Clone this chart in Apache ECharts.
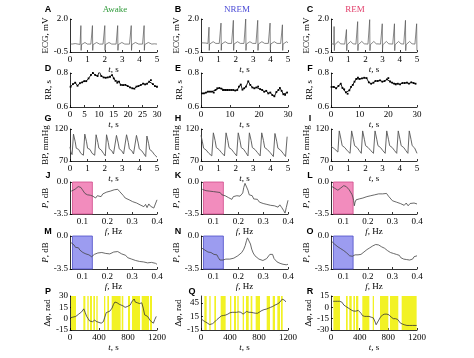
<!DOCTYPE html>
<html><head><meta charset="utf-8">
<script src="https://cdn.jsdelivr.net/npm/echarts@6/dist/echarts.min.js"></script>
<style>html,body{margin:0;padding:0;background:#fff}#c{width:474px;height:358px}</style>
</head><body><div id="c"></div>
<script>
// ---------- DATA ----------
const ecgAwake = [[0,0.12],[0.12,0.1],[0.3,0.14],[0.45,0.1],[0.58,0.08],[0.61,0.04],[0.625,1.5],[0.64,-0.38],[0.66,0.06],[0.72,0.12],[0.86,0.22],[1.0,0.1],[1.2,0.1],[1.27,0.05],[1.29,1.5],[1.305,-0.38],[1.325,0.06],[1.4,0.12],[1.53,0.22],[1.7,0.1],[1.9,0.1],[1.985,0.05],[2.0,1.5],[2.015,-0.38],[2.035,0.06],[2.1,0.12],[2.24,0.22],[2.4,0.1],[2.65,0.1],[2.725,0.05],[2.74,1.5],[2.755,-0.38],[2.775,0.06],[2.85,0.12],[2.98,0.22],[3.15,0.1],[3.42,0.1],[3.505,0.05],[3.52,1.5],[3.535,-0.38],[3.555,0.06],[3.63,0.12],[3.76,0.22],[3.95,0.1],[4.17,0.1],[4.245,0.05],[4.26,1.5],[4.275,-0.38],[4.295,0.06],[4.37,0.12],[4.5,0.22],[4.7,0.1],[4.85,0.12],[5.0,0.1]];
const ecgNrem = [[0,0.2],[0.1,0.15],[0.25,0.18],[0.4,0.15],[0.445,0.1],[0.46,1.38],[0.475,-0.38],[0.495,0.1],[0.57,0.18],[0.7,0.28],[0.85,0.15],[1.05,0.15],[1.135,0.1],[1.15,1.69],[1.165,-0.38],[1.185,0.1],[1.26,0.18],[1.39,0.28],[1.55,0.15],[1.76,0.15],[1.845,0.1],[1.86,1.9],[1.875,-0.38],[1.895,0.1],[1.97,0.18],[2.1,0.28],[2.26,0.15],[2.47,0.15],[2.555,0.1],[2.57,2.0],[2.585,-0.38],[2.605,0.1],[2.68,0.18],[2.81,0.28],[2.97,0.15],[3.16,0.15],[3.245,0.1],[3.26,1.9],[3.275,-0.38],[3.295,0.1],[3.37,0.18],[3.5,0.28],[3.66,0.15],[3.87,0.15],[3.955,0.1],[3.97,1.69],[3.985,-0.38],[4.005,0.1],[4.08,0.18],[4.21,0.28],[4.37,0.15],[4.58,0.15],[4.665,0.1],[4.68,1.56],[4.695,-0.38],[4.715,0.1],[4.79,0.18],[4.92,0.28],[5.0,0.2]];
const ecgRem = [[0,0.15],[0.1,0.12],[0.165,0.08],[0.18,1.43],[0.195,-0.4],[0.215,0.05],[0.3,0.12],[0.42,0.3],[0.55,0.12],[0.8,0.1],[0.885,0.05],[0.9,1.2],[0.915,-0.4],[0.935,0.05],[1.02,0.12],[1.14,0.3],[1.28,0.12],[1.45,0.1],[1.535,0.05],[1.55,1.8],[1.565,-0.4],[1.585,0.05],[1.67,0.12],[1.79,0.3],[1.93,0.12],[2.15,0.1],[2.235,0.05],[2.25,1.95],[2.265,-0.4],[2.285,0.05],[2.37,0.12],[2.49,0.3],[2.63,0.12],[2.88,0.1],[2.965,0.05],[2.98,1.64],[2.995,-0.4],[3.015,0.05],[3.1,0.12],[3.22,0.3],[3.36,0.12],[3.59,0.1],[3.675,0.05],[3.69,1.64],[3.705,-0.4],[3.725,0.05],[3.81,0.12],[3.93,0.3],[4.07,0.12],[4.23,0.1],[4.315,0.05],[4.33,1.9],[4.345,-0.4],[4.365,0.05],[4.45,0.12],[4.57,0.3],[4.71,0.12],[4.88,0.1],[4.965,0.05],[4.98,1.64],[4.995,-0.4]];

const rrAwake = [[0.2,0.719],[1.0,0.735],[1.8,0.743],[2.6,0.725],[3.4,0.74],[4.2,0.745],[4.9,0.752],[5.6,0.752],[6.4,0.768],[7.2,0.788],[7.9,0.8],[8.7,0.788],[9.5,0.782],[10.1,0.808],[10.8,0.782],[11.6,0.774],[12.3,0.772],[13.0,0.774],[13.8,0.778],[14.5,0.788],[15.1,0.768],[15.7,0.754],[16.3,0.743],[16.9,0.749],[17.5,0.73],[18.3,0.729],[19.1,0.73],[19.9,0.723],[20.7,0.715],[21.5,0.71],[22.2,0.708],[22.9,0.72],[23.6,0.723],[24.4,0.729],[25.2,0.738],[25.9,0.733],[26.6,0.737],[27.3,0.749],[27.9,0.758],[28.6,0.735],[29.3,0.723],[30.0,0.719]];
const rrNrem = [[0.3,0.68],[1.0,0.68],[1.7,0.685],[2.4,0.69],[3.1,0.69],[3.8,0.69],[4.4,0.685],[5.0,0.7],[5.6,0.71],[6.3,0.712],[7.0,0.708],[7.6,0.7],[8.3,0.7],[9.0,0.7],[9.7,0.7],[10.4,0.7],[11.1,0.7],[11.8,0.697],[12.5,0.7],[13.1,0.72],[13.7,0.732],[14.3,0.702],[14.9,0.71],[15.5,0.72],[16.3,0.751],[17.0,0.73],[17.7,0.715],[18.4,0.71],[19.1,0.715],[19.7,0.72],[20.4,0.705],[21.1,0.7],[21.8,0.69],[22.5,0.695],[23.2,0.68],[23.9,0.685],[24.6,0.67],[25.3,0.663],[26.0,0.688],[26.7,0.7],[27.2,0.712],[27.8,0.695],[28.4,0.675],[29.0,0.672],[29.7,0.685]];
const rrRem = [[0.2,0.718],[1.0,0.718],[1.8,0.71],[2.6,0.724],[3.4,0.737],[4.0,0.712],[4.6,0.704],[5.2,0.686],[5.8,0.678],[6.4,0.698],[7.0,0.718],[7.6,0.73],[8.2,0.749],[8.8,0.765],[9.4,0.772],[10.0,0.765],[10.8,0.768],[11.6,0.772],[12.4,0.77],[13.2,0.745],[14.0,0.737],[14.8,0.743],[15.5,0.753],[16.3,0.753],[17.1,0.757],[17.9,0.749],[18.7,0.753],[19.5,0.763],[20.0,0.77],[20.6,0.75],[21.3,0.743],[22.0,0.737],[22.6,0.733],[23.3,0.737],[24.1,0.733],[24.9,0.741],[25.7,0.741],[26.5,0.743],[27.2,0.737],[28.0,0.745],[28.8,0.741],[29.5,0.737]];

const bpAwake = [[0,92],[0.05,84],[0.12,80],[0.2,112],[0.3,100],[0.36,90],[0.42,89],[0.5,88],[0.62,82],[0.77,79],[0.85,112],[0.95,100],[1.01,90],[1.07,89],[1.15,88],[1.27,82],[1.42,79],[1.5,111],[1.6,99],[1.66,90],[1.72,89],[1.8,87],[1.92,82],[2.03,78],[2.1,111],[2.2,99],[2.26,89],[2.32,88],[2.4,86],[2.5,81],[2.6,78],[2.67,110],[2.77,98],[2.83,89],[2.89,88],[2.97,86],[3.08,81],[3.18,78],[3.25,111],[3.35,99],[3.41,89],[3.47,88],[3.55,86],[3.65,81],[3.75,78],[3.82,110],[3.92,98],[3.98,89],[4.04,88],[4.12,86],[4.25,81],[4.35,77],[4.42,109],[4.52,97],[4.58,88],[4.64,87],[4.72,85],[4.85,80],[5.0,76]];
const bpNrem = [[0,110],[0.08,100],[0.15,90],[0.22,89],[0.3,87],[0.45,82],[0.62,78],[0.71,114],[0.81,102],[0.88,91],[0.95,90],[1.03,88],[1.18,83],[1.35,78],[1.44,114],[1.54,102],[1.61,91],[1.68,90],[1.76,88],[1.9,83],[2.05,78],[2.14,114],[2.24,102],[2.31,91],[2.38,90],[2.46,88],[2.58,83],[2.7,78],[2.78,114],[2.88,102],[2.95,91],[3.02,90],[3.1,88],[3.25,83],[3.4,78],[3.49,114],[3.59,102],[3.66,91],[3.73,90],[3.81,88],[3.98,83],[4.16,77],[4.25,113],[4.35,101],[4.42,90],[4.49,89],[4.57,87],[4.72,82],[4.86,77],[4.95,108]];
const bpRem = [[0,93],[0.1,91],[0.2,89],[0.3,86],[0.4,84],[0.48,117],[0.58,104],[0.65,94],[0.72,93],[0.8,91],[0.95,86],[1.11,82],[1.2,117],[1.3,104],[1.37,94],[1.44,93],[1.52,91],[1.65,86],[1.76,82],[1.84,117],[1.94,104],[2.01,94],[2.08,93],[2.16,91],[2.32,86],[2.47,82],[2.56,117],[2.66,104],[2.73,94],[2.8,93],[2.88,91],[3.02,86],[3.15,82],[3.24,117],[3.34,104],[3.41,94],[3.48,93],[3.56,91],[3.7,86],[3.82,82],[3.91,117],[4.01,104],[4.08,94],[4.15,93],[4.23,91],[4.36,86],[4.47,82],[4.55,117],[4.65,104],[4.72,94],[4.79,93],[4.87,90],[5.0,82]];

const psdLfAwake = [[0.055,-1.0],[0.062,-0.95],[0.07,-0.8],[0.078,-0.75],[0.083,-0.5],[0.088,-0.65],[0.094,-0.6],[0.1,-0.85],[0.105,-0.75],[0.11,-1.25],[0.115,-1.05],[0.12,-1.4],[0.126,-1.2],[0.132,-1.45],[0.137,-1.3],[0.142,-1.55],[0.148,-1.45],[0.153,-1.75],[0.16,-1.5],[0.168,-1.4],[0.175,-1.6],[0.182,-1.3],[0.19,-1.35],[0.198,-1.1],[0.205,-1.3],[0.212,-1.0],[0.22,-1.1],[0.228,-0.85],[0.235,-0.95],[0.242,-0.8],[0.25,-1.05],[0.258,-1.2],[0.265,-1.5],[0.272,-1.75],[0.28,-1.65],[0.288,-1.95],[0.295,-1.85],[0.302,-2.15],[0.31,-2.0],[0.318,-2.3],[0.325,-2.2],[0.332,-2.5],[0.34,-2.35],[0.347,-2.7],[0.354,-2.45],[0.36,-2.8],[0.367,-2.4],[0.374,-2.65],[0.38,-2.5],[0.387,-2.85],[0.393,-2.7],[0.4,-1.95]];
const psdLfNrem = [[0.055,-0.8],[0.062,-1.0],[0.07,-0.95],[0.078,-1.15],[0.085,-1.0],[0.092,-1.2],[0.1,-1.05],[0.107,-1.25],[0.114,-1.1],[0.12,-1.3],[0.127,-1.15],[0.134,-1.4],[0.14,-1.3],[0.147,-1.5],[0.154,-1.4],[0.16,-1.7],[0.167,-1.55],[0.174,-1.9],[0.18,-1.6],[0.187,-1.75],[0.194,-1.5],[0.2,-1.7],[0.207,-1.55],[0.213,-1.75],[0.218,-1.2],[0.222,-0.6],[0.227,-0.15],[0.231,-0.05],[0.235,-0.3],[0.239,-0.9],[0.244,-1.4],[0.25,-1.6],[0.256,-1.5],[0.262,-1.85],[0.27,-2.0],[0.277,-1.9],[0.285,-2.2],[0.292,-2.1],[0.3,-2.35],[0.307,-2.2],[0.315,-2.45],[0.322,-2.3],[0.33,-2.55],[0.337,-2.35],[0.345,-2.6],[0.352,-2.4],[0.36,-2.75],[0.367,-2.5],[0.375,-2.8],[0.382,-3.1],[0.388,-3.4],[0.393,-2.8],[0.4,-2.0]];
const psdLfRem = [[0.054,-0.5],[0.06,-0.55],[0.066,-0.7],[0.072,-0.75],[0.078,-0.9],[0.084,-0.8],[0.09,-0.65],[0.096,-0.55],[0.102,-0.4],[0.107,-0.35],[0.112,-0.5],[0.118,-0.65],[0.124,-0.85],[0.13,-1.05],[0.135,-1.35],[0.139,-1.65],[0.142,-2.0],[0.145,-2.6],[0.148,-2.2],[0.152,-1.95],[0.158,-2.1],[0.165,-1.85],[0.172,-2.0],[0.18,-1.75],[0.188,-1.85],[0.196,-1.6],[0.204,-1.75],[0.212,-1.5],[0.22,-1.65],[0.228,-1.4],[0.236,-1.5],[0.244,-1.3],[0.252,-1.45],[0.26,-1.3],[0.268,-1.45],[0.276,-1.25],[0.284,-1.55],[0.292,-1.75],[0.3,-2.05],[0.308,-1.85],[0.316,-2.2],[0.324,-2.0],[0.332,-2.35],[0.34,-2.15],[0.348,-2.55],[0.356,-2.3],[0.364,-2.6],[0.372,-2.35],[0.38,-2.5],[0.388,-2.3],[0.396,-2.45],[0.4,-2.4]];
const psdBpAwake = [[0.054,-0.7],[0.06,-0.9],[0.066,-0.95],[0.072,-1.2],[0.078,-1.3],[0.084,-1.25],[0.09,-1.5],[0.096,-1.6],[0.102,-1.75],[0.108,-1.7],[0.114,-1.9],[0.12,-1.85],[0.126,-2.0],[0.132,-1.9],[0.137,-2.2],[0.142,-2.05],[0.148,-1.95],[0.155,-2.0],[0.162,-1.8],[0.17,-1.9],[0.178,-1.75],[0.186,-1.95],[0.194,-1.85],[0.202,-2.05],[0.21,-1.9],[0.218,-1.85],[0.226,-1.7],[0.234,-1.8],[0.242,-1.65],[0.25,-1.85],[0.258,-1.9],[0.266,-2.1],[0.274,-2.05],[0.282,-2.3],[0.29,-2.25],[0.298,-2.45],[0.306,-2.4],[0.314,-2.6],[0.322,-2.5],[0.33,-2.7],[0.338,-2.8],[0.346,-2.75],[0.354,-2.95],[0.362,-2.85],[0.37,-3.0],[0.378,-2.8],[0.386,-2.95],[0.394,-2.9],[0.4,-3.0]];
const psdBpNrem = [[0.054,-1.3],[0.06,-1.35],[0.066,-1.5],[0.072,-1.45],[0.078,-1.7],[0.084,-1.6],[0.09,-1.75],[0.096,-1.85],[0.102,-1.95],[0.108,-2.05],[0.114,-2.0],[0.12,-2.3],[0.126,-2.55],[0.132,-2.7],[0.138,-2.55],[0.144,-2.65],[0.15,-2.45],[0.158,-2.3],[0.166,-2.45],[0.174,-2.25],[0.182,-2.35],[0.19,-2.15],[0.198,-2.1],[0.206,-1.95],[0.214,-1.75],[0.222,-1.4],[0.228,-1.0],[0.233,-0.5],[0.237,-0.2],[0.241,-0.05],[0.245,-0.3],[0.249,-0.85],[0.254,-1.4],[0.26,-1.8],[0.267,-2.1],[0.275,-2.3],[0.283,-2.45],[0.291,-2.5],[0.299,-2.6],[0.307,-2.55],[0.314,-2.4],[0.32,-2.2],[0.327,-1.95],[0.333,-1.8],[0.338,-1.95],[0.344,-2.4],[0.35,-2.6],[0.356,-2.75],[0.362,-2.7],[0.368,-2.9],[0.374,-2.85],[0.38,-3.0],[0.387,-2.95],[0.393,-3.05],[0.4,-3.0]];
const psdBpRem = [[0.054,-0.6],[0.06,-0.75],[0.066,-0.9],[0.072,-1.0],[0.078,-1.15],[0.084,-1.2],[0.09,-1.35],[0.096,-1.45],[0.102,-1.55],[0.108,-1.7],[0.114,-1.8],[0.12,-1.95],[0.126,-2.1],[0.132,-2.3],[0.137,-2.15],[0.142,-2.05],[0.148,-2.0],[0.154,-1.9],[0.16,-2.0],[0.166,-1.85],[0.172,-1.95],[0.178,-1.75],[0.184,-1.7],[0.19,-1.55],[0.196,-1.45],[0.202,-1.4],[0.208,-1.25],[0.214,-1.2],[0.22,-1.05],[0.226,-0.95],[0.232,-0.9],[0.238,-0.85],[0.244,-0.95],[0.25,-1.0],[0.256,-1.15],[0.262,-1.2],[0.268,-1.3],[0.274,-1.45],[0.28,-1.55],[0.286,-1.65],[0.292,-1.75],[0.298,-1.9],[0.304,-1.85],[0.31,-2.05],[0.316,-1.95],[0.322,-2.15],[0.328,-2.05],[0.334,-2.3],[0.34,-2.2],[0.346,-2.45],[0.352,-2.3],[0.358,-2.5],[0.364,-2.4],[0.37,-2.55],[0.376,-2.35],[0.382,-2.45],[0.388,-2.2],[0.394,-2.3],[0.4,-2.1]];

const phaseAwake = [[0,1],[40,2],[80,3],[120,6],[160,9],[190,13],[210,8],[230,3],[250,0],[270,-3],[290,-2],[310,-4],[340,-2],[370,-4],[400,-5],[430,-6],[460,-4],[480,2],[500,8],[520,9],[550,10],[580,14],[600,19],[620,22],[650,21],[680,19],[700,17],[730,17],[760,15],[790,16],[810,14],[830,18],[850,22],[870,24],[885,26],[900,22],[930,21],[960,20],[990,21],[1010,14],[1030,5],[1050,3],[1070,3],[1090,1],[1110,-3],[1130,-4],[1150,-6],[1170,-1],[1190,3]];
const phaseNrem = [[0,10],[30,6],[60,3],[90,0],[120,-3],[140,-4],[160,-1],[190,3],[220,8],[250,12],[280,16],[310,17],[340,18],[370,20],[400,23],[430,24],[460,24],[490,24],[520,25],[550,24],[580,20],[600,23],[630,26],[660,24],[690,24],[720,23],[750,22],[780,22],[810,25],[840,28],[870,30],[900,31],[930,33],[960,35],[990,37],[1020,40],[1050,42],[1080,45],[1100,48],[1120,53],[1135,54],[1150,51],[1170,47]];
const phaseRem = [[30,8],[60,8],[90,8],[120,8],[150,7],[180,3],[210,1],[230,0],[260,-2],[290,-4],[320,-5],[350,-5],[380,-4],[400,-3],[420,-8],[440,-11],[470,-12],[500,-12],[530,-12],[560,-13],[590,-14],[610,-18],[630,-23],[645,-22],[660,-18],[690,-13],[720,-10],[750,-9],[780,-9],[810,-10],[840,-13],[870,-15],[900,-15],[930,-16],[950,-17],[970,-21],[990,-23],[1020,-23],[1060,-24],[1100,-24],[1140,-24],[1195,-24]];

const syncAwake = [[14,83],[184,212],[239,258],[276,303],[322,345],[363,382],[469,487],[515,538],[575,699],[713,735],[800,828],[855,966],[989,1090],[1103,1131]];
const syncNrem = [[46,78],[115,133],[184,207],[271,340],[400,418],[455,483],[501,520],[575,593],[621,658],[685,708],[754,814],[906,952],[989,1021],[1053,1090],[1103,1127]];
const syncRem = [[33,126],[209,233],[255,289],[312,335],[349,381],[437,535],[582,600],[684,800],[823,939],[986,1195]];

const lfBand = [0.06, 0.14];
const stageTitles = ['Awake', 'NREM', 'REM'];
const panelLetters = ['A','B','C','D','E','F','G','H','I','J','K','L','M','N','O','P','Q','R'];
const ticks5s = [0,1,2,3,4,5];
const ticks30Awake = [0,5,10,15,20,25,30];
const ticks30 = [0,10,20,30];
const ticksF = [0.1,0.2,0.3,0.4];
const ticksT = [0,400,800,1200];

// ---------- LAYOUT ----------
const SERIF = '"Liberation Serif","Times New Roman",serif';
const SANS = '"Liberation Sans",Arial,sans-serif';
const FS = 9;
const cols = [{left:70,width:87},{left:201,width:87},{left:331,width:86}];
const rows = [{top:19,height:33},{top:73,height:34},{top:129,height:32},{top:182,height:32},{top:236,height:33},{top:296,height:34}];
const letterX = [48,178,310];
const letterY = [10,69,119,176,232,292];

const f1 = v => v.toFixed(1);
const f0 = v => String(Math.round(v));

const rowDefs = [
  {yname:'ECG, mV', xn:'{i|t}, s', ymin:-0.5, ymax:2, yt:[-0.5,2], yf:f1, xmin:0, xmax:5, xt:[ticks5s,ticks5s,ticks5s], xf:f0,
   data:[ecgAwake,ecgNrem,ecgRem], kind:'ecg'},
  {yname:'RR, s', xn:'{i|t}, s', ymin:0.6, ymax:0.8, yt:[0.6,0.8], yf:f1, xmin:0, xmax:30, xt:[ticks30Awake,ticks30,ticks30], xf:f0,
   data:[rrAwake,rrNrem,rrRem], kind:'rr'},
  {yname:'BP, mmHg', xn:'{i|t}, s', ymin:70, ymax:120, yt:[70,120], yf:f0, xmin:0, xmax:5, xt:[ticks5s,ticks5s,ticks5s], xf:f0,
   data:[bpAwake,bpNrem,bpRem], kind:'bp'},
  {yname:'{i|P}, dB', xn:'{i|f}, Hz', ymin:-3.5, ymax:0, yt:[-3.5,0], yf:f1, xmin:0.05, xmax:0.4, xt:[ticksF,ticksF,ticksF], xf:f1,
   data:[psdLfAwake,psdLfNrem,psdLfRem], kind:'psdPink'},
  {yname:'{i|P}, dB', xn:'{i|f}, Hz', ymin:-3.5, ymax:0, yt:[-3.5,0], yf:f1, xmin:0.05, xmax:0.4, xt:[ticksF,ticksF,ticksF], xf:f1,
   data:[psdBpAwake,psdBpNrem,psdBpRem], kind:'psdBlue'},
  {yname:'Δφ, rad', xn:'{i|t}, s', xmin:0, xmax:1200, xt:[ticksT,ticksT,ticksT], xf:f0, yf:f0,
   yr:[[-15,30,[-15,0,15,30]],[-15,60,[-15,15,45]],[-30,15,[-30,-15,0,15]]],
   data:[phaseAwake,phaseNrem,phaseRem], bands:[syncAwake,syncNrem,syncRem], kind:'phase'}
];

const grid=[], xAxis=[], yAxis=[], series=[], graphic=[];
const txt = {fontFamily:SERIF, fontSize:FS, color:'#000'};
const rich = {i:{fontStyle:'italic', fontFamily:SERIF, fontSize:FS, color:'#000'}};
let idx=0;
rowDefs.forEach((rd, r) => {
  for (let c=0;c<3;c++){
    const col=cols[c], row=rows[r];
    grid.push({left:col.left, top:row.top, width:col.width, height:row.height});
    xAxis.push({type:'value', gridIndex:idx, min:rd.xmin, max:rd.xmax,
      name:rd.xn, nameLocation:'middle', nameGap:11,
      nameTextStyle:Object.assign({}, txt, {rich}),
      axisLine:{show:true, onZero:false, lineStyle:{color:'#000', width:0.8}},
      axisTick:{show:true, inside:true, length:2, customValues:rd.xt[c], lineStyle:{color:'#000', width:0.8}},
      axisLabel:Object.assign({}, txt, {customValues:rd.xt[c], formatter:rd.xf, margin:3}),
      splitLine:{show:false}});
    let ymin=rd.ymin, ymax=rd.ymax, yt=rd.yt;
    if (rd.yr){ ymin=rd.yr[c][0]; ymax=rd.yr[c][1]; yt=rd.yr[c][2]; }
    yAxis.push({type:'value', gridIndex:idx, min:ymin, max:ymax,
      name:rd.yname, nameLocation:'middle', nameGap:(c===0?13:12), nameRotate:90,
      nameTextStyle:Object.assign({}, txt, {rich}),
      axisLine:{show:true, onZero:false, lineStyle:{color:'#000', width:0.8}},
      axisTick:{show:true, inside:true, length:2, customValues:yt, lineStyle:{color:'#000', width:0.8}},
      axisLabel:Object.assign({}, txt, {customValues:yt, formatter:rd.yf, margin:2}),
      splitLine:{show:false}});
    const s = {type:'line', xAxisIndex:idx, yAxisIndex:idx, data:rd.data[c], symbol:'none', silent:true,
      animation:false, lineStyle:{color:'#444', width:0.8}};
    if (rd.kind==='rr'){ s.symbol='rect'; s.symbolSize=1.8; s.showSymbol=true; s.itemStyle={color:'#000'}; s.lineStyle={color:'#000', width:0.9}; }
    if (rd.kind==='bp'){ s.lineStyle={color:'#555', width:0.9}; }
    if (rd.kind==='ecg'){ s.lineStyle={color:'#555', width:0.7}; }
    if (rd.kind==='psdPink'){
      s.markArea={silent:true, itemStyle:{color:'#f28cbd', borderColor:'#cf4a8a', borderWidth:0.8},
        data:[[{xAxis:lfBand[0]},{xAxis:lfBand[1]}]]};
    }
    if (rd.kind==='psdBlue'){
      s.markArea={silent:true, itemStyle:{color:'#9c9cf0', borderColor:'#4f4fc8', borderWidth:0.8},
        data:[[{xAxis:lfBand[0]},{xAxis:lfBand[1]}]]};
    }
    if (rd.kind==='phase'){
      s.lineStyle={color:'#333', width:0.8};
      s.markArea={silent:true, itemStyle:{color:'#f2f224'},
        data:rd.bands[c].map(b=>[{xAxis:b[0]},{xAxis:b[1]}])};
    }
    series.push(s);
    const lx = (r===5 && c===1) ? 192 : letterX[c];
    graphic.push({type:'text', x:lx, y:letterY[r], style:{text:panelLetters[idx], font:'bold 9px '+SANS, fill:'#000', align:'center', verticalAlign:'middle'}});
    idx++;
  }
});
const titleColors = ['#2f9a3a','#4b4bd6','#e2406c'];
const titleX = [115,237,355];
stageTitles.forEach((t,i)=>graphic.push({type:'text', x:titleX[i], y:10,
  style:{text:t, font:'9px '+SERIF, fill:titleColors[i], align:'center', verticalAlign:'middle'}}));

const chart = echarts.init(document.getElementById('c'), null, {renderer:'canvas'});
chart.setOption({animation:false, backgroundColor:'#fff', grid, xAxis, yAxis, series, graphic});
</script></body></html>
